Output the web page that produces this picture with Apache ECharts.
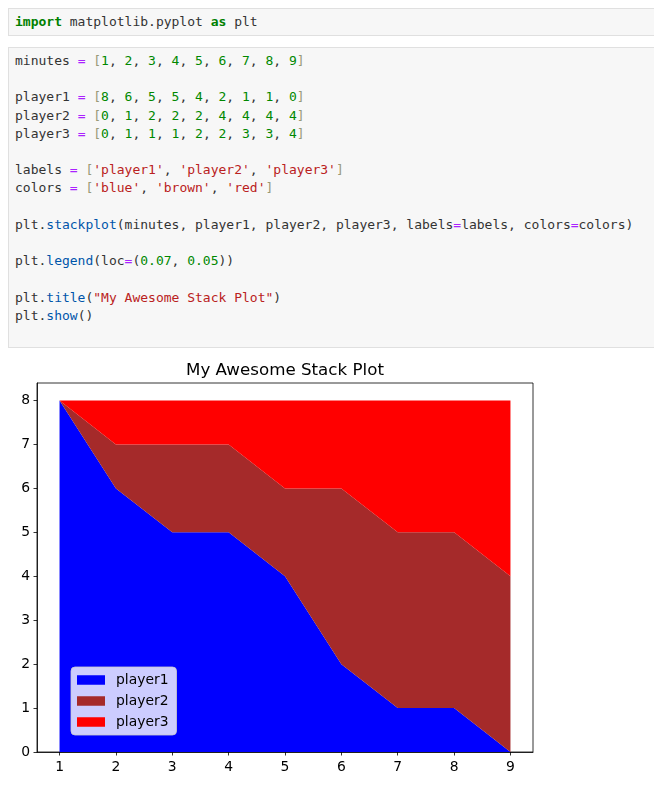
<!DOCTYPE html>
<html>
<head>
<meta charset="utf-8">
<script src="https://cdn.jsdelivr.net/npm/echarts@6/dist/echarts.min.js"></script>
<style>
  html, body { margin: 0; padding: 0; background: #fff; width: 654px; height: 796px; overflow: hidden; }
  .cell { position: absolute; left: 8px; width: 680px; background: #f7f7f7; border: 1px solid #e0e0e0; box-sizing: border-box; }
  .cell pre { margin: 0; padding: 4px 0 0 6px; font-family: "DejaVu Sans Mono", monospace; font-size: 13px; line-height: 18.2px; color: #333; }
  .kw { color: #008000; font-weight: bold; }
  .nu { color: #008800; }
  .op { color: #aa22ff; }
  .st { color: #ba2121; }
  .pr { color: #0055aa; }
  .br { color: #999977; }
  #chart { position: absolute; left: 0; top: 355px; width: 654px; height: 441px; }
</style>
</head>
<body>
<div class="cell" style="top:8px;height:28px;"><pre><span class="kw">import</span> matplotlib.pyplot <span class="kw">as</span> plt</pre></div>
<div class="cell" style="top:47px;height:301px;"><pre>minutes <span class="op">=</span> <span class="br">[</span><span class="nu">1</span>, <span class="nu">2</span>, <span class="nu">3</span>, <span class="nu">4</span>, <span class="nu">5</span>, <span class="nu">6</span>, <span class="nu">7</span>, <span class="nu">8</span>, <span class="nu">9</span><span class="br">]</span>

player1 <span class="op">=</span> <span class="br">[</span><span class="nu">8</span>, <span class="nu">6</span>, <span class="nu">5</span>, <span class="nu">5</span>, <span class="nu">4</span>, <span class="nu">2</span>, <span class="nu">1</span>, <span class="nu">1</span>, <span class="nu">0</span><span class="br">]</span>
player2 <span class="op">=</span> <span class="br">[</span><span class="nu">0</span>, <span class="nu">1</span>, <span class="nu">2</span>, <span class="nu">2</span>, <span class="nu">2</span>, <span class="nu">4</span>, <span class="nu">4</span>, <span class="nu">4</span>, <span class="nu">4</span><span class="br">]</span>
player3 <span class="op">=</span> <span class="br">[</span><span class="nu">0</span>, <span class="nu">1</span>, <span class="nu">1</span>, <span class="nu">1</span>, <span class="nu">2</span>, <span class="nu">2</span>, <span class="nu">3</span>, <span class="nu">3</span>, <span class="nu">4</span><span class="br">]</span>

labels <span class="op">=</span> <span class="br">[</span><span class="st">'player1'</span>, <span class="st">'player2'</span>, <span class="st">'player3'</span><span class="br">]</span>
colors <span class="op">=</span> <span class="br">[</span><span class="st">'blue'</span>, <span class="st">'brown'</span>, <span class="st">'red'</span><span class="br">]</span>

plt.<span class="pr">stackplot</span>(minutes, player1, player2, player3, labels<span class="op">=</span>labels, colors<span class="op">=</span>colors)

plt.<span class="pr">legend</span>(loc<span class="op">=</span>(<span class="nu">0.07</span>, <span class="nu">0.05</span>))

plt.<span class="pr">title</span>(<span class="st">"My Awesome Stack Plot"</span>)
plt.<span class="pr">show</span>()</pre></div>
<div id="chart"></div>
<script>
// data
var minutes = [1, 2, 3, 4, 5, 6, 7, 8, 9];
var player1 = [8, 6, 5, 5, 4, 2, 1, 1, 0];
var player2 = [0, 1, 2, 2, 2, 4, 4, 4, 4];
var player3 = [0, 1, 1, 1, 2, 2, 3, 3, 4];
var labels = ['player1', 'player2', 'player3'];
var colors = ['blue', 'brown', 'red'];
var xTicks = [1, 2, 3, 4, 5, 6, 7, 8, 9];
var yTicks = [0, 1, 2, 3, 4, 5, 6, 7, 8];

var font = 'DejaVu Sans';
var chart = echarts.init(document.getElementById('chart'), null, { renderer: 'canvas' });

// value first so that the stack is done on y (both axes are value axes)
function pairs(vals) {
    return minutes.map(function (m, i) { return [vals[i], m]; });
}

var players = [player1, player2, player3];
var series = [];
for (let i = 0; i < players.length; i++) {
    series.push({
        name: labels[i],
        type: 'line',
        stack: 'total',
        showSymbol: false,
        symbol: 'none',
        color: colors[i],
        encode: { x: 1, y: 0 },
        lineStyle: { width: 0 },
        areaStyle: { color: colors[i], opacity: 1 },
        data: pairs(players[i])
    });
}

var axisCommon = {
    type: 'value',
    splitLine: { show: false },
    axisLine: { show: true, lineStyle: { color: '#000', width: 0.8 } },
    axisTick: { show: true, length: 3.5, lineStyle: { color: '#000', width: 0.8 } }
};

var option = {
    animation: false,
    backgroundColor: '#fff',
    grid: {
        left: 37, right: 121, top: 28, bottom: 44,
        show: true, borderColor: '#000', borderWidth: 0.8, backgroundColor: 'transparent'
    },
    graphic: [{
        type: 'text',
        left: 285 - 99, top: 7,
        style: { text: 'My Awesome Stack Plot', font: '16.7px "DejaVu Sans"', fill: '#000' }
    }],
    legend: {
        orient: 'vertical',
        left: 71, top: 312,
        padding: [6, 8, 6, 6],
        itemGap: 7,
        itemWidth: 28,
        itemHeight: 9.5,
        icon: 'rect',
        backgroundColor: 'rgba(255,255,255,0.8)',
        borderColor: 'rgba(204,204,204,0.8)',
        borderWidth: 1,
        borderRadius: 4,
        textStyle: { fontFamily: font, fontSize: 13.9, color: '#000', padding: [0, 0, 0, 6] },
        data: labels
    },
    xAxis: Object.assign({}, axisCommon, {
        min: 0.6, max: 9.4,
        axisTick: Object.assign({}, axisCommon.axisTick, { customValues: xTicks }),
        axisLabel: { customValues: xTicks, margin: 8, fontFamily: font, fontSize: 13.9, color: '#000' }
    }),
    yAxis: Object.assign({}, axisCommon, {
        min: 0, max: 8.4,
        axisTick: Object.assign({}, axisCommon.axisTick, { customValues: yTicks }),
        axisLabel: { customValues: yTicks, margin: 7, fontFamily: font, fontSize: 13.9, color: '#000' }
    }),
    series: series
};
chart.setOption(option);
</script>
</body>
</html>
